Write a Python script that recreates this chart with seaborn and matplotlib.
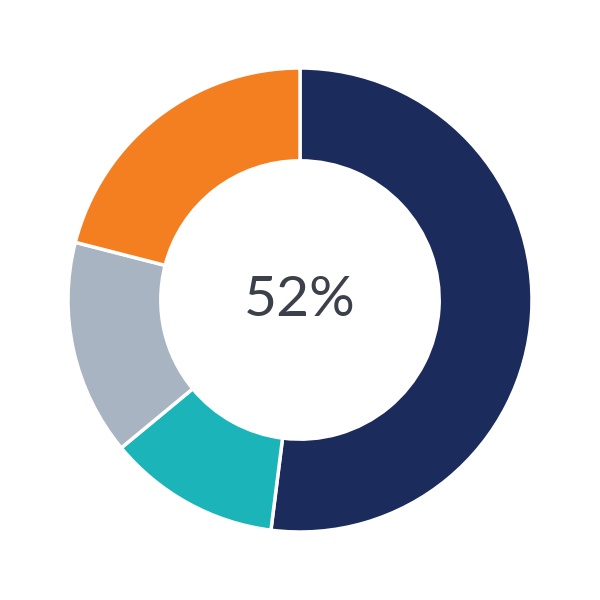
import matplotlib
matplotlib.use("Agg")
import matplotlib.pyplot as plt
import seaborn as sns

segments = ['Navy', 'Teal', 'Gray', 'Orange']
shares = [52, 12, 15, 21]
colours = ['#1b2b5b', '#1bb5b9', '#a9b4c2', '#f47f20']
centre_label = '52%'

sns.set_theme(style='white')
plt.rcParams['font.family'] = ['Lato', 'DejaVu Sans']

fig = plt.figure(figsize=(6, 6), dpi=100)
ax = fig.add_axes([0, 0, 1, 1])
ax.pie(shares, colors=colours, startangle=90, counterclock=False,
       radius=1.0, wedgeprops=dict(width=0.4, edgecolor='white', linewidth=2.5))
ax.text(0, 0, centre_label, ha='center', va='center', fontsize=41,
        color='#3b404a', fontweight='normal')
lim = 300 / 232
ax.set_xlim(-lim, lim)
ax.set_ylim(-lim, lim)
ax.set_aspect('equal')
ax.axis('off')
fig.savefig('out.png', dpi=100, facecolor='white')
